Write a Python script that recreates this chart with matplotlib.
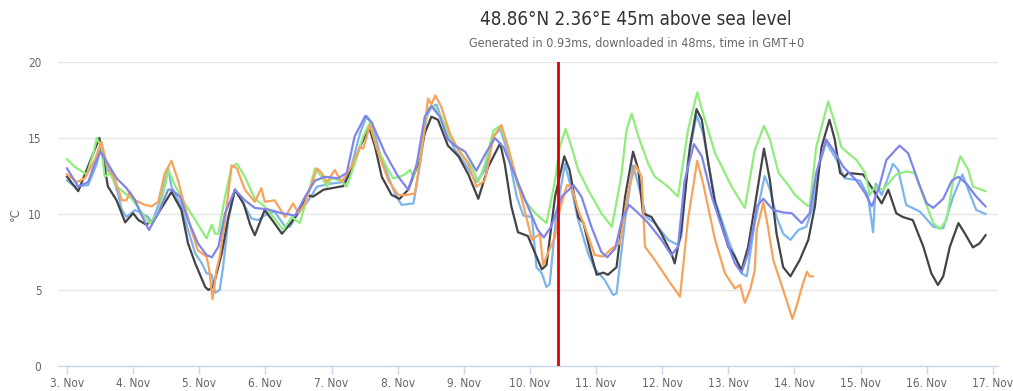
import matplotlib
matplotlib.use("Agg")
import matplotlib.pyplot as plt
import matplotlib.dates as mdates
import numpy as np

plt.rcParams["font.stretch"] = "condensed"

# (day offset from 3 Nov 00:00, temperature in degC)
black = [(0, 12.45), (0.17, 11.5), (0.49, 15.0), (0.62, 11.8), (0.75, 10.9), (0.88, 9.45),
         (1.0, 10.05), (1.08, 9.6), (1.2, 9.3), (1.33, 9.7), (1.58, 11.45), (1.73, 10.26),
         (1.83, 8.07), (1.94, 6.75), (2.09, 5.2), (2.14, 5.0), (2.21, 5.2), (2.34, 7.4),
         (2.44, 9.8), (2.54, 11.6), (2.67, 10.7), (2.77, 9.3), (2.84, 8.6), (2.99, 10.26),
         (3.12, 9.5), (3.25, 8.7), (3.40, 9.5), (3.52, 10.26), (3.62, 11.25), (3.72, 11.14),
         (3.88, 11.6), (4.18, 11.84), (4.30, 12.9), (4.43, 14.4), (4.57, 15.7), (4.66, 14.4),
         (4.76, 12.45), (4.91, 11.25), (5.03, 11.0), (5.16, 11.6), (5.31, 13.3), (5.41, 15.3),
         (5.51, 16.4), (5.61, 16.2), (5.76, 14.5), (5.92, 13.8), (6.07, 12.6), (6.22, 11.0),
         (6.37, 13.1), (6.55, 14.65), (6.62, 13.3), (6.72, 10.5), (6.82, 8.8), (6.97, 8.55),
         (7.18, 6.36), (7.25, 6.64), (7.38, 11.14), (7.52, 13.8), (7.60, 12.9), (7.73, 9.8),
         (7.81, 9.4), (7.91, 7.6), (8.01, 6.0), (8.11, 6.14), (8.18, 6.0), (8.31, 6.5),
         (8.44, 11.14), (8.56, 14.1), (8.64, 12.9), (8.71, 10.05), (8.84, 9.8), (8.99, 8.7),
         (9.14, 7.4), (9.19, 6.75), (9.29, 8.95), (9.42, 14.4), (9.52, 16.9), (9.60, 16.2),
         (9.70, 13.3), (9.80, 10.7), (10.0, 7.85), (10.1, 7.2), (10.2, 6.3), (10.3, 7.85),
         (10.40, 10.5), (10.54, 14.3), (10.63, 12.2), (10.73, 8.7), (10.83, 6.5), (10.94, 5.9),
         (11.08, 6.97), (11.21, 8.3), (11.31, 10.5), (11.41, 14.4), (11.53, 16.2), (11.61, 14.9),
         (11.69, 12.7), (11.76, 12.45), (11.81, 12.7), (12.04, 12.6), (12.19, 11.6), (12.32, 10.7),
         (12.42, 11.6), (12.54, 10.05), (12.64, 9.8), (12.79, 9.6), (12.95, 7.85), (13.07, 6.1),
         (13.17, 5.33), (13.25, 5.9), (13.35, 7.85), (13.48, 9.4), (13.58, 8.7), (13.70, 7.8),
         (13.80, 8.07), (13.89, 8.6)]

blue = [(0, 12.2), (0.12, 11.8), (0.32, 11.9), (0.45, 13.3), (0.52, 14.65), (0.60, 12.9),
        (0.67, 12.7), (0.77, 11.36), (0.83, 10.26), (0.90, 9.8), (1.03, 10.26), (1.23, 9.8),
        (1.28, 9.4), (1.43, 11.14), (1.53, 13.0), (1.58, 11.8), (1.73, 10.5), (1.83, 8.95),
        (1.94, 7.4), (2.04, 6.75), (2.11, 6.1), (2.19, 6.0), (2.24, 4.82), (2.31, 5.0),
        (2.36, 6.5), (2.44, 9.6), (2.54, 11.6), (2.69, 10.5), (2.79, 9.7), (2.89, 9.6),
        (3.04, 10.05), (3.14, 10.15), (3.30, 9.16), (3.37, 9.16), (3.50, 10.05), (3.65, 10.9),
        (3.78, 11.8), (4.0, 12.0), (4.18, 12.1), (4.30, 13.1), (4.43, 15.3), (4.53, 16.45),
        (4.61, 16.0), (4.73, 14.0), (4.86, 12.45), (4.98, 11.14), (5.06, 10.6), (5.24, 10.7),
        (5.34, 13.3), (5.44, 16.4), (5.51, 17.05), (5.59, 17.2), (5.72, 15.5), (5.87, 14.2),
        (6.02, 13.3), (6.19, 12.1), (6.32, 12.9), (6.45, 15.1), (6.55, 15.6), (6.67, 14.0),
        (6.80, 11.14), (6.90, 9.9), (7.03, 9.8), (7.10, 6.5), (7.18, 6.1), (7.25, 5.2),
        (7.30, 5.4), (7.40, 10.05), (7.53, 13.3), (7.63, 11.6), (7.73, 9.6), (7.88, 7.4),
        (7.98, 6.4), (8.13, 5.66), (8.26, 4.67), (8.31, 4.78), (8.44, 9.6), (8.56, 13.2),
        (8.66, 11.6), (8.76, 9.8), (8.89, 9.4), (9.09, 8.3), (9.24, 7.96), (9.29, 8.5),
        (9.39, 13.55), (9.52, 16.5), (9.62, 15.3), (9.80, 10.9), (10.0, 8.3), (10.2, 6.1),
        (10.28, 5.9), (10.40, 9.4), (10.55, 12.5), (10.63, 11.6), (10.73, 9.8), (10.83, 8.7),
        (10.94, 8.3), (11.06, 8.95), (11.18, 9.16), (11.28, 10.5), (11.38, 13.3), (11.48, 14.7),
        (11.64, 13.55), (11.76, 12.35), (11.99, 12.2), (12.11, 11.25), (12.19, 8.8), (12.23, 12.0),
        (12.32, 11.25), (12.49, 13.3), (12.57, 12.9), (12.69, 10.6), (12.90, 10.15), (13.10, 9.16),
        (13.25, 9.06), (13.40, 11.14), (13.54, 12.6), (13.65, 11.36), (13.75, 10.26), (13.89, 10.0)]

green = [(0, 13.6), (0.12, 13.1), (0.30, 12.6), (0.40, 14.0), (0.45, 15.0), (0.52, 14.4),
         (0.57, 12.45), (0.65, 12.7), (0.75, 11.8), (0.88, 11.36), (0.98, 11.0), (1.10, 10.26),
         (1.25, 9.4), (1.38, 10.05), (1.48, 11.8), (1.53, 12.9), (1.63, 11.9), (1.78, 10.7),
         (1.94, 9.6), (2.11, 8.4), (2.19, 9.3), (2.24, 8.7), (2.29, 8.7), (2.39, 11.14),
         (2.49, 13.1), (2.57, 13.3), (2.69, 12.45), (2.84, 11.0), (2.99, 10.5), (3.14, 9.7),
         (3.27, 8.95), (3.37, 9.6), (3.40, 9.8), (3.52, 9.4), (3.62, 10.9), (3.75, 13.0),
         (3.85, 12.45), (3.93, 11.8), (4.0, 12.35), (4.15, 12.2), (4.23, 11.8), (4.35, 13.3),
         (4.48, 15.1), (4.58, 16.0), (4.68, 14.4), (4.81, 13.3), (4.93, 12.35), (5.03, 12.45),
         (5.11, 12.6), (5.19, 12.9), (5.24, 12.45), (5.36, 14.4), (5.46, 16.95), (5.54, 17.1),
         (5.66, 16.4), (5.81, 14.9), (5.96, 14.0), (6.12, 13.1), (6.22, 12.1), (6.32, 13.3),
         (6.45, 15.5), (6.55, 15.8), (6.65, 14.65), (6.82, 11.8), (6.92, 10.9), (7.08, 10.05),
         (7.25, 9.4), (7.38, 12.2), (7.45, 14.4), (7.54, 15.6), (7.63, 14.4), (7.73, 12.9),
         (7.88, 11.6), (8.08, 10.05), (8.24, 9.16), (8.38, 12.45), (8.46, 15.5), (8.54, 16.6),
         (8.64, 15.1), (8.79, 13.3), (8.89, 12.45), (9.09, 11.8), (9.24, 11.14), (9.39, 15.5),
         (9.53, 18.0), (9.62, 16.6), (9.80, 14.0), (10.05, 11.8), (10.25, 10.4), (10.40, 14.2),
         (10.54, 15.8), (10.63, 14.9), (10.76, 12.7), (10.89, 12.0), (11.01, 11.25), (11.18, 10.6),
         (11.23, 10.5), (11.33, 14.4), (11.51, 17.4), (11.61, 16.0), (11.71, 14.4), (11.84, 13.9),
         (11.94, 13.55), (12.07, 12.7), (12.14, 11.25), (12.22, 11.8), (12.34, 11.6), (12.54, 12.6),
         (12.69, 12.8), (12.82, 12.7), (12.95, 11.14), (13.10, 9.4), (13.20, 9.0), (13.30, 9.6),
         (13.40, 12.2), (13.51, 13.8), (13.63, 12.9), (13.70, 11.8), (13.89, 11.5)]

orange = [(0, 12.6), (0.15, 12.1), (0.27, 12.35), (0.42, 13.55), (0.52, 14.75), (0.60, 13.3),
          (0.73, 12.2), (0.83, 10.9), (0.90, 10.9), (0.95, 11.47), (1.03, 10.9), (1.18, 10.6),
          (1.28, 10.5), (1.38, 10.8), (1.48, 12.7), (1.58, 13.5), (1.68, 12.2), (1.78, 10.5),
          (1.88, 8.95), (1.98, 7.6), (2.11, 7.2), (2.15, 6.4), (2.20, 4.4), (2.26, 6.3),
          (2.31, 7.2), (2.39, 9.6), (2.49, 13.2), (2.57, 13.0), (2.69, 11.6), (2.84, 10.8),
          (2.94, 11.7), (2.99, 10.8), (3.14, 10.9), (3.30, 9.8), (3.42, 10.7), (3.50, 10.05),
          (3.60, 10.7), (3.78, 13.0), (3.85, 12.7), (3.93, 12.1), (4.05, 12.9), (4.15, 12.1),
          (4.30, 13.1), (4.43, 14.4), (4.48, 14.3), (4.58, 15.85), (4.71, 14.0), (4.86, 12.2),
          (5.01, 11.25), (5.14, 11.25), (5.26, 11.36), (5.36, 14.0), (5.46, 17.6), (5.51, 17.2),
          (5.57, 17.8), (5.66, 17.05), (5.79, 15.3), (5.92, 14.2), (6.07, 13.3), (6.19, 11.8),
          (6.32, 12.2), (6.45, 15.1), (6.57, 15.85), (6.67, 14.4), (6.82, 12.0), (6.90, 10.6),
          (7.03, 8.3), (7.15, 8.7), (7.20, 6.64), (7.27, 7.4), (7.38, 8.5), (7.45, 10.26),
          (7.56, 11.9), (7.63, 11.8), (7.73, 10.26), (7.83, 9.16), (7.98, 7.3), (8.11, 7.2),
          (8.24, 7.74), (8.36, 8.07), (8.49, 11.6), (8.60, 13.2), (8.69, 12.45), (8.74, 7.85),
          (8.89, 6.97), (9.09, 5.66), (9.27, 4.56), (9.39, 9.6), (9.53, 13.5), (9.62, 12.0),
          (9.80, 8.3), (9.95, 6.1), (10.10, 5.1), (10.18, 5.33), (10.25, 4.16), (10.33, 5.0),
          (10.40, 6.3), (10.43, 8.95), (10.53, 10.75), (10.60, 9.16), (10.68, 6.97), (10.78, 5.66),
          (10.88, 4.34), (10.97, 3.1), (11.03, 3.9), (11.13, 5.44), (11.19, 6.2), (11.23, 5.9),
          (11.28, 5.9)]

purple = [(0, 13.0), (0.17, 11.8), (0.32, 12.1), (0.42, 13.3), (0.51, 14.1), (0.62, 13.3),
          (0.75, 12.35), (0.90, 11.7), (1.03, 10.9), (1.13, 9.9), (1.24, 8.95), (1.38, 10.05),
          (1.53, 11.6), (1.58, 11.6), (1.71, 11.14), (1.83, 9.6), (1.98, 8.07), (2.11, 7.3),
          (2.19, 7.15), (2.29, 7.85), (2.39, 10.05), (2.54, 11.6), (2.69, 10.9), (2.84, 10.4),
          (3.04, 10.3), (3.25, 10.05), (3.45, 9.9), (3.60, 11.14), (3.75, 12.2), (3.90, 12.45),
          (4.10, 12.35), (4.23, 12.7), (4.35, 15.1), (4.51, 16.45), (4.61, 16.0), (4.81, 14.0),
          (5.01, 12.45), (5.16, 11.6), (5.29, 13.3), (5.41, 16.4), (5.51, 17.1), (5.64, 16.4),
          (5.76, 14.9), (5.87, 14.5), (6.02, 14.1), (6.19, 12.85), (6.32, 13.9), (6.47, 15.0),
          (6.60, 14.4), (6.77, 12.6), (6.97, 10.5), (7.12, 8.95), (7.21, 8.46), (7.32, 9.16),
          (7.48, 11.14), (7.66, 11.9), (7.78, 11.14), (7.93, 9.16), (8.08, 7.5), (8.17, 7.15),
          (8.29, 7.74), (8.39, 9.6), (8.50, 10.6), (8.64, 10.05), (8.79, 9.4), (8.99, 8.3),
          (9.14, 7.3), (9.24, 7.85), (9.34, 12.2), (9.48, 14.6), (9.60, 13.8), (9.75, 11.14),
          (9.95, 8.5), (10.10, 6.75), (10.20, 6.14), (10.30, 7.4), (10.40, 9.6), (10.43, 10.5),
          (10.53, 11.0), (10.68, 10.26), (10.83, 10.1), (10.96, 10.05), (11.11, 9.4), (11.23, 10.05),
          (11.33, 12.7), (11.48, 14.9), (11.59, 14.2), (11.74, 13.1), (11.94, 12.2), (12.07, 11.36),
          (12.17, 10.5), (12.27, 11.6), (12.39, 13.55), (12.59, 14.5), (12.72, 14.0), (12.90, 11.8),
          (13.00, 10.7), (13.10, 10.4), (13.25, 11.0), (13.38, 12.2), (13.48, 12.45), (13.60, 12.0),
          (13.75, 11.14), (13.89, 10.5)]

series = [(blue, "#7cb5ec"), (black, "#434348"), (green, "#90ed7d"),
          (orange, "#f7a35c"), (purple, "#8085e9")]

start = np.datetime64("2019-11-03T00:00")
now_offset = 7.42  # red "now" marker, in days
y_ticks = [0, 5, 10, 15, 20]


def to_dates(days):
    return start + (np.asarray(days) * 24 * 60).astype("timedelta64[m]")


fig = plt.figure(figsize=(10.13, 3.91), dpi=100)
ax = fig.add_axes([0.0573, 0.064, 0.928, 0.7774])

for data, color in series:
    d = np.array(data)
    ax.plot(to_dates(d[:, 0]), d[:, 1], color=color, lw=1.6, solid_joinstyle="round")

ax.axvline(to_dates(now_offset), color="#e00000", lw=2, zorder=5)

ax.set_ylim(0, 20)
ax.set_yticks(y_ticks)
ax.set_xlim(to_dates(-0.136), to_dates(14.08))
ax.xaxis.set_major_locator(mdates.DayLocator())
ax.xaxis.set_major_formatter(mdates.DateFormatter("%-d. %b"))

ax.grid(axis="y", color="#e6e6e6", lw=1)
ax.set_axisbelow(True)
for s in ["top", "right", "left"]:
    ax.spines[s].set_visible(False)
ax.spines["bottom"].set_color("#ccd6eb")
ax.spines["bottom"].set_linewidth(1)
ax.tick_params(axis="x", colors="#ccd6eb", length=6, width=1, labelcolor="#666666",
               labelsize=8.5, pad=2)
ax.tick_params(axis="y", length=0, labelcolor="#666666", labelsize=8.5, pad=12)
ax.set_ylabel("°C", color="#666666", fontsize=9, labelpad=4)

fig.text(0.628, 0.949, "48.86°N 2.36°E 45m above sea level", ha="center", va="center",
         fontsize=13.5, color="#333333")
fig.text(0.628, 0.89, "Generated in 0.93ms, downloaded in 48ms, time in GMT+0", ha="center",
         va="center", fontsize=9, color="#666666")

fig.savefig("out.png", dpi=100)
